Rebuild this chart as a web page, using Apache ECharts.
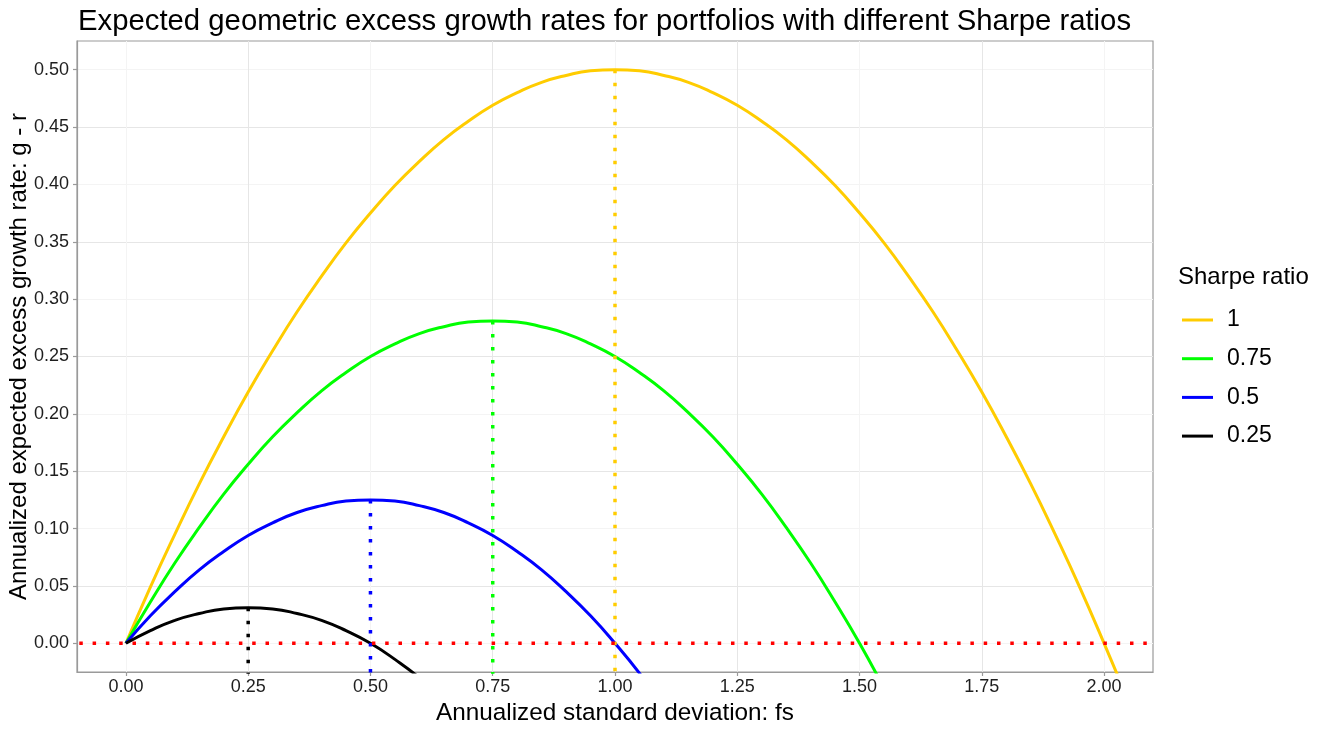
<!DOCTYPE html>
<html>
<head>
<meta charset="utf-8">
<script src="https://cdn.jsdelivr.net/npm/echarts@6/dist/echarts.min.js"></script>
<style>
  html, body { margin: 0; padding: 0; background: #fff; }
  #chart { width: 1320px; height: 730px; }
</style>
</head>
<body>
<div id="chart"></div>
<script>
// fs values (x), every 0.05
const fsGrid = [0, 0.05, 0.1, 0.15, 0.2, 0.25, 0.3, 0.35, 0.4, 0.45, 0.5, 0.55, 0.6, 0.65, 0.7,
  0.75, 0.8, 0.85, 0.9, 0.95, 1.0, 1.05, 1.1, 1.15, 1.2, 1.25, 1.3, 1.35, 1.4, 1.45, 1.5, 1.55,
  1.6, 1.65, 1.7, 1.75, 1.8, 1.85, 1.9, 1.95, 2.0, 2.05];

// g - r for each Sharpe ratio
const growthS100 = [0, 0.049, 0.095, 0.139, 0.18, 0.219, 0.255, 0.289, 0.32, 0.349, 0.375, 0.399,
  0.42, 0.439, 0.455, 0.469, 0.48, 0.489, 0.495, 0.499, 0.5, 0.499, 0.495, 0.489, 0.48, 0.469,
  0.455, 0.439, 0.42, 0.399, 0.375, 0.349, 0.32, 0.289, 0.255, 0.219, 0.18, 0.139, 0.095, 0.049,
  0, -0.051];
const growthS075 = [0, 0.036, 0.07, 0.101, 0.13, 0.156, 0.18, 0.201, 0.22, 0.236, 0.25, 0.261,
  0.27, 0.276, 0.28, 0.281, 0.28, 0.276, 0.27, 0.261, 0.25, 0.236, 0.22, 0.201, 0.18, 0.156,
  0.13, 0.101, 0.07, 0.036, 0, -0.039, -0.08];
const growthS050 = [0, 0.024, 0.045, 0.064, 0.08, 0.094, 0.105, 0.114, 0.12, 0.124, 0.125, 0.124,
  0.12, 0.114, 0.105, 0.094, 0.08, 0.064, 0.045, 0.024, 0, -0.026, -0.055];
const growthS025 = [0, 0.011, 0.02, 0.026, 0.03, 0.031, 0.03, 0.026, 0.02, 0.011, 0, -0.014,
  -0.03, -0.049];

const sharpeNames = ['1', '0.75', '0.5', '0.25'];
const sharpeColors = ['#FFCC00', '#00FF00', '#0000FF', '#000000'];
const peakFs = [1, 0.75, 0.5, 0.25];
const peakGrowth = [0.5, 0.281, 0.125, 0.031];

const xTicks = [0, 0.25, 0.5, 0.75, 1, 1.25, 1.5, 1.75, 2];
const yTicks = [0, 0.05, 0.1, 0.15, 0.2, 0.25, 0.3, 0.35, 0.4, 0.45, 0.5];

const FONT = 'Liberation Sans';
const chart = echarts.init(document.getElementById('chart'));

const curves = [growthS100, growthS075, growthS050, growthS025];
let series = [];

curves.forEach(function (ys, i) {
  series.push({
    name: sharpeNames[i],
    type: 'line',
    data: ys.map(function (y, k) { return [fsGrid[k], y]; }),
    showSymbol: false,
    symbol: 'none',
    smooth: true,
    clip: true,
    lineStyle: { color: sharpeColors[i], width: 3 },
    itemStyle: { color: sharpeColors[i] },
    z: 3
  });
});

// dotted lines from the top of each curve down
peakFs.forEach(function (x, i) {
  series.push({
    type: 'line',
    data: [[x, peakGrowth[i]], [x, -0.06]],
    showSymbol: false,
    symbol: 'none',
    clip: true,
    lineStyle: { color: sharpeColors[i], width: 3.5, type: [3.5, 9.5], cap: 'butt' },
    z: 4
  });
});

// red zero line
series.push({
  type: 'line',
  data: [[-0.2, 0], [2.3, 0]],
  showSymbol: false,
  symbol: 'none',
  clip: true,
  lineStyle: { color: '#FF0000', width: 3.5, type: [3.5, 9.8], cap: 'butt', dashOffset: 2 },
  z: 5
});

const axisGrey = '#9a9a9a';

const option = {
  animation: false,
  backgroundColor: '#fff',
  textStyle: { fontFamily: FONT },
  title: [
    {
      text: 'Expected geometric excess growth rates for portfolios with different Sharpe ratios',
      left: 73,
      top: 2,
      textStyle: { fontFamily: FONT, fontSize: 29.3, fontWeight: 'normal', color: '#000' }
    },
    {
      text: 'Sharpe ratio',
      left: 1173,
      top: 260,
      textStyle: { fontFamily: FONT, fontSize: 24, fontWeight: 'normal', color: '#000' }
    }
  ],
  legend: {
    data: sharpeNames,
    orient: 'vertical',
    left: 1177,
    top: 303,
    icon: 'rect',
    itemWidth: 31,
    itemHeight: 3,
    itemGap: 14.7,
    textStyle: { fontFamily: FONT, fontSize: 23, color: '#000', lineHeight: 24, padding: [0, 0, 0, 9] }
  },
  grid: {
    left: 77, right: 167, top: 41, bottom: 58,
    show: true, borderColor: axisGrey, borderWidth: 1.2, backgroundColor: 'transparent',
    containLabel: false,
    outerBoundsMode: 'none'
  },
  xAxis: {
    type: 'value',
    min: -0.1,
    max: 2.1,
    interval: 0.125,
    name: 'Annualized standard deviation: fs',
    nameLocation: 'middle',
    nameGap: 29,
    nameMoveOverlap: false,
    nameTextStyle: { fontFamily: FONT, fontSize: 24.3, color: '#000' },
    axisLine: { show: true, onZero: false, lineStyle: { color: axisGrey, width: 1.2 } },
    axisTick: { show: true, customValues: xTicks, length: 4, lineStyle: { color: axisGrey, width: 1.2 } },
    axisLabel: {
      customValues: xTicks, margin: 6, fontSize: 18, color: '#1e1e1e', fontFamily: FONT,
      formatter: function (v) { return v.toFixed(2); }
    },
    splitLine: { show: true, lineStyle: { color: ['#f4f4f4', '#e6e6e6'], width: 1 } }
  },
  yAxis: {
    type: 'value',
    min: -0.025,
    max: 0.525,
    interval: 0.025,
    name: 'Annualized expected excess growth rate: g - r',
    nameLocation: 'middle',
    nameGap: 46,
    nameMoveOverlap: false,
    nameRotate: 90,
    nameTextStyle: { fontFamily: FONT, fontSize: 24, color: '#000' },
    axisLine: { show: true, onZero: false, lineStyle: { color: axisGrey, width: 1.2 } },
    axisTick: { show: true, customValues: yTicks, length: 4, lineStyle: { color: axisGrey, width: 1.2 } },
    axisLabel: {
      customValues: yTicks, margin: 8, fontSize: 18, color: '#1e1e1e', fontFamily: FONT,
      formatter: function (v) { return v.toFixed(2); }
    },
    splitLine: { show: true, lineStyle: { color: ['#f4f4f4', '#e6e6e6'], width: 1 } }
  },
  series: series
};

chart.setOption(option);
</script>
</body>
</html>
